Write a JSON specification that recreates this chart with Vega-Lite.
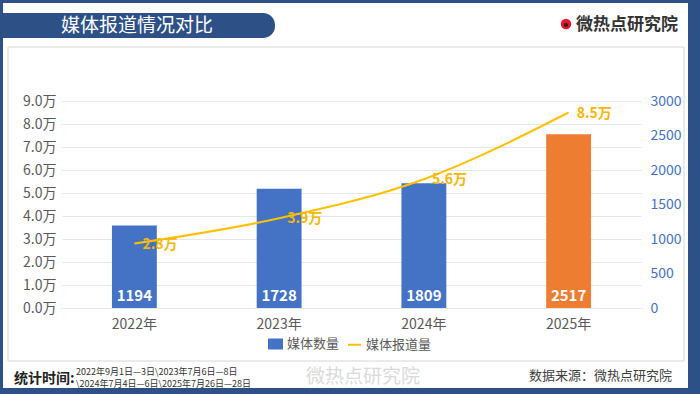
{
  "$schema": "https://vega.github.io/schema/vega-lite/v6.json",
  "width": 579,
  "height": 207,
  "autosize": {"type": "none"},
  "padding": {"left": 62, "top": 101, "right": 59, "bottom": 86},
  "background": "white",
  "config": {"font": "Noto Sans CJK SC", "view": {"stroke": null}},
  "data": {"values": [
    {"year": "2022年", "media": 1194, "reports": 2.8, "label": "2.8万"},
    {"year": "2023年", "media": 1728, "reports": 3.9, "label": "3.9万"},
    {"year": "2024年", "media": 1809, "reports": 5.6, "label": "5.6万"},
    {"year": "2025年", "media": 2517, "reports": 8.5, "label": "8.5万"}
  ]},
  "layer": [
    {"data": {"values": [{}]}, "mark": {"type": "rect", "color": "#2D5186"},
     "encoding": {"x": {"value": -62}, "x2": {"value": -59}, "y": {"value": -101}, "y2": {"value": 293}}},
    {"data": {"values": [{}]}, "mark": {"type": "rect", "color": "#2D5186"},
     "encoding": {"x": {"value": -62}, "x2": {"value": 638}, "y": {"value": -101}, "y2": {"value": -98}}},
    {"data": {"values": [{}]}, "mark": {"type": "rect", "color": "#2D5186"},
     "encoding": {"x": {"value": 626}, "x2": {"value": 638}, "y": {"value": -101}, "y2": {"value": 293}}},
    {"data": {"values": [{}]}, "mark": {"type": "rect", "color": "#2D5186"},
     "encoding": {"x": {"value": -62}, "x2": {"value": 638}, "y": {"value": 287}, "y2": {"value": 293}}},
    {"data": {"values": [{}]}, "mark": {"type": "rect", "fill": "transparent", "stroke": "#D6D6D6", "strokeWidth": 1},
     "encoding": {"x": {"value": -54}, "x2": {"value": 622}, "y": {"value": -54}, "y2": {"value": 260}}},
    {"data": {"values": [{}]}, "mark": {"type": "rect", "color": "#2D5186", "cornerRadiusTopRight": 12, "cornerRadiusBottomRight": 12},
     "encoding": {"x": {"value": -62}, "x2": {"value": 213}, "y": {"value": -88}, "y2": {"value": -63}}},
    {"data": {"values": [{}]}, "mark": {"type": "text", "text": "媒体报道情况对比", "color": "white", "fontSize": 19, "align": "center", "baseline": "middle"},
     "encoding": {"x": {"value": 75}, "y": {"value": -75}}},
    {"data": {"values": [{}]}, "mark": {"type": "point", "filled": true, "color": "#E6162D", "size": 110, "opacity": 1},
     "encoding": {"x": {"value": 504}, "y": {"value": -77}}},
    {"data": {"values": [{}]}, "mark": {"type": "point", "filled": true, "color": "#222222", "size": 18, "opacity": 1},
     "encoding": {"x": {"value": 504}, "y": {"value": -76}}},
    {"data": {"values": [{}]}, "mark": {"type": "text", "text": "微热点研究院", "color": "#333333", "fontSize": 17, "fontWeight": "bold", "align": "left", "baseline": "middle"},
     "encoding": {"x": {"value": 514}, "y": {"value": -76}}},
    {"data": {"values": [{}]}, "mark": {"type": "text", "text": "统计时间:", "color": "#222222", "fontSize": 14, "fontWeight": "bold", "align": "left", "baseline": "middle"},
     "encoding": {"x": {"value": -48}, "y": {"value": 278}}},
    {"data": {"values": [{}]}, "mark": {"type": "text", "text": "2022年9月1日—3日\\2023年7月6日—8日", "color": "#333333", "fontSize": 9, "align": "left", "baseline": "middle"},
     "encoding": {"x": {"value": 14}, "y": {"value": 271}}},
    {"data": {"values": [{}]}, "mark": {"type": "text", "text": "\\2024年7月4日—6日\\2025年7月26日—28日", "color": "#333333", "fontSize": 9, "align": "left", "baseline": "middle"},
     "encoding": {"x": {"value": 14}, "y": {"value": 283}}},
    {"data": {"values": [{}]}, "mark": {"type": "text", "text": "微热点研究院", "color": "#DADADA", "fontSize": 19, "align": "left", "baseline": "middle"},
     "encoding": {"x": {"value": 244}, "y": {"value": 276}}},
    {"data": {"values": [{}]}, "mark": {"type": "text", "text": "数据来源：微热点研究院", "color": "#404040", "fontSize": 13, "align": "right", "baseline": "middle"},
     "encoding": {"x": {"value": 610}, "y": {"value": 275}}},
    {
      "layer": [
        {
          "mark": {"type": "bar"},
          "encoding": {
            "x": {"field": "year", "type": "nominal", "sort": null,
              "scale": {"paddingInner": 0.69, "paddingOuter": 0.345},
              "axis": {"title": null, "labelAngle": 0, "domain": false, "ticks": false, "labelFontSize": 14, "labelColor": "#595959", "labelPadding": 9}},
            "y": {"field": "media", "type": "quantitative",
              "scale": {"domain": [0, 3000], "nice": false},
              "axis": {"orient": "right", "values": [0, 500, 1000, 1500, 2000, 2500, 3000], "format": "d", "labelOverlap": false, "title": null, "domain": false, "ticks": false, "grid": false, "labelColor": "#4472C4", "labelFontSize": 14, "labelPadding": 9}},
            "color": {
              "condition": {"test": "datum.year === '2025年'", "value": "#ED7D31"},
              "datum": "媒体数量", "type": "nominal",
              "scale": {"domain": ["媒体数量", "媒体报道量"], "range": ["#4472C4", "#FFC000"]},
              "legend": {
                "orient": "none", "legendX": 206, "legendY": 235, "direction": "horizontal", "title": null,
                "labelFontSize": 13, "labelColor": "#595959", "columnPadding": 4, "labelOffset": 4, "symbolSize": 169,
                "encode": {"symbols": {"update": {
                  "shape": {"signal": "datum.value === '媒体数量' ? 'M-1,-0.7H1V0.7H-1Z' : 'stroke'"},
                  "fill": {"signal": "datum.value === '媒体数量' ? '#4472C4' : 'transparent'"},
                  "stroke": {"signal": "datum.value === '媒体数量' ? 'transparent' : '#FFC000'"},
                  "strokeWidth": {"value": 2},
                  "opacity": {"value": 1}
                }}}
              }
            }
          }
        },
        {
          "mark": {"type": "text", "color": "white", "fontWeight": "bold", "fontSize": 15, "baseline": "bottom", "dy": -4},
          "encoding": {
            "x": {"field": "year", "type": "nominal", "sort": null},
            "y": {"datum": 0, "type": "quantitative",
              "axis": {"orient": "right", "values": [0, 500, 1000, 1500, 2000, 2500, 3000], "format": "d", "labelOverlap": false, "title": null, "domain": false, "ticks": false, "grid": false, "labelColor": "#4472C4", "labelFontSize": 14, "labelPadding": 9}},
            "text": {"field": "media"}
          }
        }
      ]
    },
    {
      "layer": [
        {
          "mark": {"type": "line", "interpolate": "monotone", "strokeWidth": 2},
          "encoding": {
            "x": {"field": "year", "type": "nominal", "sort": null},
            "y": {"field": "reports", "type": "quantitative",
              "scale": {"domain": [0, 9], "nice": false},
              "axis": {"orient": "left", "values": [0, 1, 2, 3, 4, 5, 6, 7, 8, 9], "labelExpr": "format(datum.value, '.1f') + '万'", "labelOverlap": false, "title": null, "domain": false, "ticks": false, "grid": true, "gridColor": "#E6E6E6", "labelFontSize": 14, "labelColor": "#595959", "labelPadding": 6}},
            "color": {"datum": "媒体报道量", "type": "nominal"}
          }
        },
        {
          "mark": {"type": "text", "color": "#F5B700", "fontWeight": "bold", "fontSize": 14, "align": "left", "baseline": "middle", "dx": 8, "dy": 1},
          "encoding": {
            "x": {"field": "year", "type": "nominal", "sort": null},
            "y": {"field": "reports", "type": "quantitative",
              "axis": {"orient": "left", "values": [0, 1, 2, 3, 4, 5, 6, 7, 8, 9], "labelExpr": "format(datum.value, '.1f') + '万'", "labelOverlap": false, "title": null, "domain": false, "ticks": false, "grid": true, "gridColor": "#E6E6E6", "labelFontSize": 14, "labelColor": "#595959", "labelPadding": 6}},
            "text": {"field": "label"}
          }
        }
      ]
    }
  ],
  "resolve": {"scale": {"y": "independent"}}
}
